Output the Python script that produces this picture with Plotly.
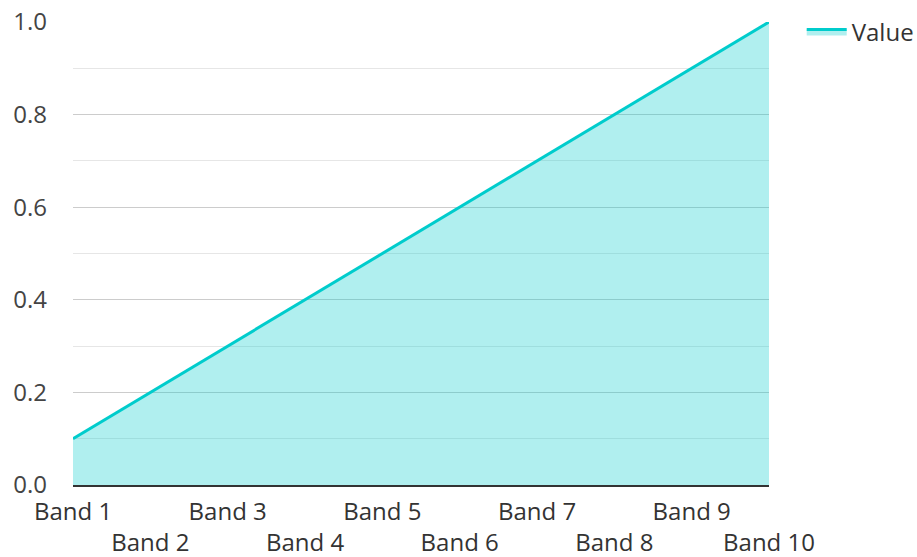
import plotly.graph_objects as go

categories = ["Band 1", "Band 2", "Band 3", "Band 4", "Band 5",
              "Band 6", "Band 7", "Band 8", "Band 9", "Band 10"]
values = [0.1, 0.2, 0.3, 0.4, 0.5, 0.6, 0.7, 0.8, 0.9, 1.0]
y_ticks = [0.0, 0.2, 0.4, 0.6, 0.8, 1.0]

# stagger the category labels over two rows
tick_text = [c if i % 2 == 0 else "<br>" + c for i, c in enumerate(categories)]

fig = go.Figure()
fig.add_trace(go.Scatter(
    x=list(range(len(categories))),
    y=values,
    mode="lines",
    name="Value",
    line=dict(color="#00cccc", width=3),
    fill="tozeroy",
    fillcolor="rgba(0,204,204,0.31)",
    hoverinfo="skip",
))

font = "Open Sans, Noto Sans, sans-serif"
fig.update_layout(
    width=917, height=557,
    margin=dict(l=73, r=148, t=22, b=72, autoexpand=False),
    paper_bgcolor="white", plot_bgcolor="white",
    font=dict(family=font, size=24, color="#333333"),
    showlegend=True,
    legend=dict(x=1.047, xanchor="left", y=1.027, yanchor="top",
                xref="paper", font=dict(size=24, color="#333333"),
                bgcolor="rgba(0,0,0,0)", itemwidth=40),
    xaxis=dict(
        range=[0, len(categories) - 1],
        tickmode="array",
        tickvals=list(range(len(categories))),
        ticktext=tick_text,
        tickangle=0,
        showgrid=False, zeroline=False,
        showline=True, linecolor="#333333", linewidth=2,
        ticks="", tickfont=dict(size=24, color="#333333"),
        ticklabelstandoff=4,
        automargin=False, fixedrange=True,
    ),
    yaxis=dict(
        range=[0, 1.0],
        tickmode="array",
        tickvals=y_ticks,
        ticktext=[f"{v:.1f}" for v in y_ticks],
        showgrid=True, gridcolor="#cccccc", gridwidth=1,
        zeroline=False, showline=False,
        ticks="", ticklabelstandoff=25,
        tickfont=dict(size=24, color="#444444"),
        minor=dict(dtick=0.1, tick0=0, showgrid=True,
                   gridcolor="#e6e6e6", gridwidth=1),
        automargin=False, fixedrange=True,
    ),
)

fig.write_html("out.html")
